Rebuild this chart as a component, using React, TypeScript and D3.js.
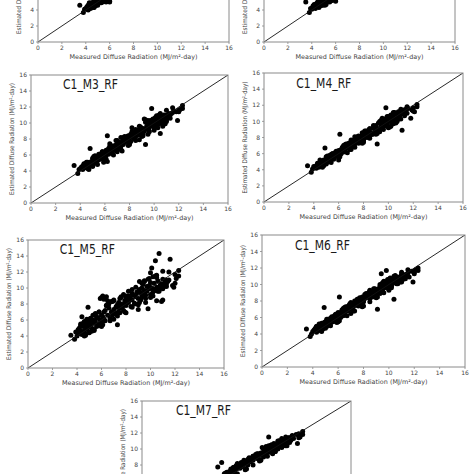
import React from "react";
import * as d3 from "d3";

// Measured diffuse radiation (shared by all models), MJ/m2-day
const measured = [
  3.5, 3.8, 3.9, 4.0, 4.1, 4.2, 4.2, 4.3, 4.3, 4.4,
  4.4, 4.5, 4.5, 4.6, 4.6, 4.7, 4.7, 4.8, 4.8, 4.9,
  4.9, 5.0, 5.0, 5.1, 5.1, 5.2, 5.2, 5.3, 5.4, 5.4,
  5.5, 5.5, 5.6, 5.7, 5.7, 5.8, 5.9, 6.0, 6.0, 6.1,
  6.1, 6.2, 6.2, 6.3, 6.3, 6.4, 6.5, 6.5, 6.6, 6.7,
  6.8, 6.8, 6.9, 7.0, 7.0, 7.1, 7.2, 7.3, 7.3, 7.4,
  7.5, 7.5, 7.6, 7.7, 7.8, 7.8, 7.9, 8.0, 8.1, 8.1,
  8.2, 8.3, 8.4, 8.5, 8.5, 8.6, 8.7, 8.8, 8.9, 9.0,
  9.0, 9.1, 9.2, 9.2, 9.3, 9.4, 9.5, 9.5, 9.6, 9.7,
  9.8, 9.8, 9.9, 10.0, 10.0, 10.1, 10.1, 10.2, 10.3, 10.3,
  10.4, 10.5, 10.5, 10.6, 10.7, 10.8, 10.9, 11.0, 11.1, 11.2,
  11.3, 11.5, 11.6, 11.8, 11.9, 12.0, 12.1, 12.3, 12.3, 11.4,
  4.6, 4.8, 5.0, 5.2, 5.3, 5.6, 5.8, 5.9, 6.0, 6.2,
  6.4, 6.6, 6.9, 7.1, 7.4, 7.6, 7.9, 8.2, 8.4, 8.7,
  8.9, 9.1, 9.3, 9.4, 9.6, 9.7, 9.9, 10.0, 10.2, 10.4,
  10.5, 10.6, 10.8, 10.9, 11.0, 11.2, 10.7, 9.5, 8.0, 7.2,
  4.3, 4.7, 5.1, 5.4, 5.8, 6.1, 6.4, 6.7, 7.0, 7.3,
  7.6, 7.9, 8.2, 8.5, 8.8, 9.1, 9.3, 9.6, 9.9, 10.2,
  10.4, 10.7, 11.0, 11.3, 4.5, 5.0, 5.5, 6.0, 6.5, 7.0,
  7.5, 8.0, 8.5, 9.0, 9.5, 10.0, 10.5, 11.0, 11.5, 12.0,
];

const estimatedM1 = [
  4.6, 3.7, 4.1, 4.2, 4.4, 4.0, 4.6, 4.3, 4.8, 4.5,
  4.2, 4.7, 4.4, 4.9, 4.5, 5.1, 4.8, 4.6, 5.0, 5.3,
  4.7, 5.2, 4.9, 5.4, 5.0, 5.6, 5.1, 5.5, 5.3, 5.8,
  5.2, 5.9, 5.6, 5.0, 6.1, 5.7, 6.2, 5.1, 6.3, 6.0,
  6.4, 6.6, 6.1, 6.8, 6.3, 6.5, 6.9, 6.7, 7.0, 6.6,
  7.1, 6.8, 7.2, 7.4, 6.9, 7.3, 7.6, 7.2, 7.7, 7.5,
  7.6, 7.9, 7.4, 8.1, 7.8, 8.2, 7.7, 8.3, 8.0, 8.5,
  8.3, 8.6, 8.2, 8.9, 8.5, 8.8, 9.0, 8.6, 9.2, 8.9,
  9.1, 9.4, 9.0, 9.6, 9.2, 9.8, 9.3, 9.9, 9.5, 10.0,
  9.7, 10.2, 9.8, 10.4, 9.9, 10.3, 10.6, 10.0, 10.5, 10.2,
  10.4, 10.7, 10.3, 10.9, 10.6, 10.5, 11.0, 10.8, 11.2, 10.9,
  11.1, 11.3, 11.5, 11.2, 11.6, 11.4, 11.8, 12.0, 11.7, 11.3,
  4.3, 4.5, 4.8, 5.2, 4.9, 5.4, 5.1, 5.7, 5.0, 6.0,
  6.2, 6.7, 7.0, 7.3, 7.5, 7.8, 8.0, 8.4, 8.7, 8.8,
  9.0, 9.3, 9.5, 9.7, 9.6, 10.1, 10.0, 10.3, 10.4, 10.6,
  10.7, 10.8, 11.0, 11.1, 11.2, 11.4, 10.9, 9.6, 8.1, 7.4,
  4.9, 4.3, 5.5, 5.0, 6.3, 5.6, 6.9, 6.2, 7.6, 6.8,
  8.1, 7.4, 8.8, 8.0, 9.3, 8.6, 9.9, 9.1, 10.4, 9.7,
  10.9, 10.2, 11.4, 10.8, 4.9, 4.6, 5.1, 5.5, 7.0, 6.5,
  8.0, 7.5, 9.0, 8.5, 10.0, 9.5, 10.1, 10.5, 11.0, 11.5,
];

const estimatedM2 = [
  5.0, 3.7, 4.2, 4.1, 4.5, 4.3, 4.7, 4.4, 4.2, 4.6,
  4.8, 4.4, 5.0, 4.6, 4.3, 4.9, 4.5, 5.1, 4.7, 5.4,
  4.6, 5.2, 4.8, 5.5, 5.0, 4.7, 5.6, 5.3, 5.1, 5.8,
  5.4, 5.7, 6.0, 5.2, 5.9, 6.2, 5.6, 5.1, 6.4, 5.9,
  6.1, 6.7, 6.3, 6.0, 6.9, 6.4, 6.6, 7.1, 6.5, 6.8,
  6.9, 7.3, 7.0, 6.8, 7.5, 7.2, 7.4, 7.8, 7.1, 7.6,
  7.8, 7.5, 7.9, 8.2, 7.6, 8.0, 8.4, 7.9, 8.1, 8.6,
  8.4, 8.1, 8.7, 8.5, 9.0, 8.3, 8.8, 9.1, 8.7, 9.3,
  8.8, 9.2, 9.5, 9.0, 9.7, 9.3, 9.9, 9.4, 10.0, 9.6,
  10.1, 9.5, 9.9, 10.3, 9.8, 10.5, 10.0, 10.4, 10.1, 10.7,
  10.2, 10.6, 10.9, 10.4, 10.7, 11.0, 10.6, 11.1, 10.8, 11.3,
  11.0, 11.4, 11.2, 11.6, 11.1, 11.7, 11.5, 12.1, 11.9, 11.2,
  4.4, 4.6, 5.3, 4.9, 5.5, 5.2, 5.8, 5.5, 6.1, 5.7,
  6.6, 6.4, 7.1, 7.3, 7.2, 7.7, 8.1, 8.0, 8.6, 8.5,
  8.9, 9.3, 9.2, 9.8, 9.5, 9.9, 10.2, 10.1, 10.3, 10.5,
  10.6, 10.4, 10.9, 10.7, 11.1, 11.2, 10.5, 9.7, 8.2, 7.3,
  4.7, 5.1, 4.6, 5.9, 5.3, 6.6, 5.9, 7.2, 6.5, 7.8,
  7.1, 8.4, 7.7, 9.0, 8.3, 9.6, 8.8, 10.1, 9.4, 10.7,
  9.9, 11.2, 10.5, 11.7, 4.9, 5.5, 5.0, 6.5, 6.0, 7.5,
  7.0, 8.5, 8.0, 9.5, 9.0, 10.5, 10.0, 10.6, 11.0, 11.4,
];

const estimatedM3 = [
  4.7, 3.7, 4.2, 4.3, 4.5, 4.2, 4.6, 4.4, 4.8, 4.5,
  4.9, 4.4, 4.8, 4.6, 5.1, 4.5, 5.0, 4.7, 6.8, 5.2,
  4.8, 5.1, 5.6, 5.0, 5.4, 5.5, 5.9, 5.2, 5.6, 5.3,
  5.8, 5.4, 6.0, 5.5, 6.2, 5.9, 5.1, 6.3, 5.7, 6.6,
  6.0, 8.4, 6.4, 6.1, 6.8, 6.5, 6.3, 7.0, 6.7, 6.6,
  7.2, 6.6, 7.0, 7.4, 6.8, 7.3, 7.6, 8.2, 7.1, 7.4,
  7.8, 7.3, 7.6, 8.0, 7.7, 8.3, 7.9, 8.1, 8.6, 7.7,
  9.4, 8.2, 8.6, 8.9, 8.3, 8.7, 9.1, 7.9, 8.8, 9.2,
  8.8, 9.3, 10.5, 9.0, 7.3, 9.6, 9.2, 9.8, 9.5, 10.0,
  11.8, 9.6, 9.9, 10.4, 9.5, 10.7, 9.8, 10.1, 10.6, 9.4,
  10.2, 10.9, 8.7, 10.5, 10.8, 10.1, 10.6, 11.0, 10.7, 11.2,
  11.0, 11.3, 11.5, 11.4, 10.3, 11.6, 11.7, 12.2, 11.8, 11.2,
  4.3, 5.0, 4.6, 5.7, 5.0, 5.6, 6.4, 5.8, 6.0, 5.2,
  7.4, 6.2, 7.8, 7.0, 6.5, 8.0, 8.4, 8.5, 8.0, 8.5,
  9.5, 8.7, 10.4, 9.3, 9.0, 10.3, 10.2, 9.8, 10.9, 9.9,
  10.4, 10.2, 11.0, 9.9, 10.4, 10.8, 9.6, 8.6, 7.5, 7.0,
  4.9, 4.2, 5.8, 4.8, 6.4, 5.5, 7.1, 6.0, 7.8, 6.7,
  8.3, 7.2, 8.9, 7.8, 9.6, 8.4, 10.1, 8.9, 10.5, 9.5,
  11.0, 10.0, 11.6, 10.6, 5.1, 4.6, 6.1, 5.4, 7.2, 6.4,
  8.2, 7.3, 9.2, 8.3, 10.3, 9.1, 11.2, 10.2, 11.9, 11.4,
];

const estimatedM4 = [
  4.5, 3.7, 4.1, 4.4, 4.3, 4.5, 4.2, 4.6, 4.4, 4.7,
  4.3, 4.6, 4.9, 4.5, 4.8, 5.0, 4.6, 5.2, 4.9, 6.7,
  5.0, 4.8, 5.3, 5.5, 5.1, 5.6, 5.3, 5.8, 5.4, 5.9,
  5.6, 6.0, 5.4, 5.9, 6.1, 5.7, 6.2, 5.2, 6.4, 5.9,
  8.4, 6.3, 6.0, 6.6, 6.8, 6.2, 7.0, 6.5, 6.9, 6.7,
  7.3, 6.8, 6.5, 7.1, 7.5, 7.0, 7.7, 7.2, 8.1, 7.6,
  7.4, 8.0, 7.8, 7.5, 8.2, 7.9, 8.6, 7.7, 8.3, 8.8,
  8.0, 8.5, 8.9, 8.2, 9.1, 8.6, 8.4, 9.2, 8.8, 9.0,
  9.5, 7.2, 9.1, 9.8, 8.7, 9.4, 10.4, 9.2, 9.7, 9.5,
  10.2, 11.7, 9.6, 10.0, 10.6, 9.3, 10.3, 10.8, 9.9, 10.5,
  10.7, 10.1, 11.0, 9.8, 10.4, 11.2, 10.6, 10.9, 8.9, 11.0,
  11.3, 11.0, 11.6, 10.4, 11.4, 11.7, 11.2, 12.1, 11.8, 11.5,
  4.4, 4.5, 5.6, 5.0, 5.4, 5.3, 5.7, 6.2, 6.0, 6.5,
  6.4, 7.2, 6.7, 7.4, 7.8, 7.3, 8.0, 8.7, 8.0, 8.4,
  9.3, 8.9, 9.0, 10.1, 9.9, 10.3, 9.4, 10.0, 10.1, 9.7,
  10.2, 10.9, 10.5, 10.8, 11.1, 11.4, 10.0, 9.8, 7.7, 6.9,
  4.8, 4.3, 5.7, 4.9, 6.3, 5.6, 7.0, 6.1, 7.7, 6.8,
  8.2, 7.3, 8.8, 7.9, 9.5, 8.5, 10.0, 9.0, 10.6, 9.4,
  11.1, 10.1, 11.5, 10.7, 5.2, 4.7, 6.0, 5.5, 7.1, 6.5,
  8.1, 7.4, 9.1, 8.4, 10.2, 9.2, 11.1, 10.3, 11.8, 11.3,
];

const estimatedM5 = [
  4.1, 3.6, 4.5, 4.0, 4.8, 4.3, 5.0, 4.6, 5.5, 4.2,
  6.4, 4.4, 5.2, 4.7, 5.8, 4.3, 5.4, 4.9, 6.1, 7.6,
  5.1, 4.5, 5.7, 5.3, 6.2, 5.0, 5.8, 6.6, 4.8, 5.6,
  5.9, 6.8, 5.2, 6.3, 5.5, 7.0, 6.0, 5.7, 8.8, 6.4,
  9.0, 6.1, 8.6, 7.2, 5.9, 8.9, 6.6, 8.4, 7.5, 6.2,
  8.3, 7.0, 6.6, 8.5, 7.3, 6.8, 7.7, 5.4, 7.9, 8.2,
  7.5, 6.9, 8.0, 7.6, 9.2, 7.2, 8.4, 7.8, 8.6, 9.0,
  8.2, 8.8, 7.7, 9.3, 8.5, 9.1, 8.0, 8.9, 9.5, 7.3,
  8.7, 10.8, 9.4, 8.5, 10.0, 9.0, 9.7, 10.9, 8.2, 9.6,
  11.1, 7.4, 10.3, 9.2, 11.9, 10.0, 12.5, 9.5, 10.6, 9.8,
  13.4, 10.1, 8.4, 10.9, 14.3, 10.4, 8.3, 11.1, 10.2, 10.7,
  10.5, 11.0, 13.6, 10.3, 10.1, 11.7, 11.2, 12.2, 11.5, 10.8,
  4.0, 5.6, 5.3, 4.6, 6.0, 6.3, 5.3, 8.7, 6.6, 7.0,
  7.8, 8.0, 8.3, 6.9, 7.0, 8.8, 8.1, 9.0, 8.6, 8.1,
  9.4, 9.8, 8.9, 10.5, 9.1, 10.2, 9.9, 10.7, 11.4, 9.7,
  11.3, 9.6, 10.2, 10.5, 8.5, 11.0, 10.0, 9.2, 8.8, 7.6,
  5.3, 4.1, 6.2, 4.7, 7.0, 5.4, 7.8, 5.9, 8.4, 6.5,
  8.9, 7.0, 9.6, 7.6, 10.1, 8.2, 10.6, 8.7, 11.2, 9.0,
  11.5, 9.6, 12.1, 10.2, 5.6, 4.4, 6.7, 5.2, 7.9, 6.1,
  8.7, 6.9, 9.8, 7.9, 10.8, 8.8, 11.6, 9.9, 12.0, 10.6,
];

const estimatedM6 = [
  4.6, 3.7, 4.0, 4.3, 4.5, 4.4, 4.7, 4.2, 4.9, 4.6,
  4.4, 4.8, 5.2, 4.5, 5.0, 4.7, 5.3, 4.9, 5.1, 7.2,
  5.4, 5.0, 5.5, 5.2, 4.9, 5.7, 5.4, 5.6, 5.9, 5.3,
  5.7, 6.0, 5.5, 6.2, 5.8, 6.1, 5.4, 6.3, 6.6, 8.5,
  6.2, 6.6, 6.0, 6.9, 6.4, 6.7, 7.2, 6.5, 7.0, 6.8,
  7.4, 6.9, 7.6, 7.1, 7.8, 7.3, 6.8, 7.6, 8.0, 7.5,
  8.2, 7.6, 7.9, 8.4, 7.7, 8.1, 8.5, 8.0, 8.3, 8.8,
  8.4, 8.7, 9.0, 8.3, 9.3, 8.6, 9.1, 8.8, 9.5, 8.9,
  9.2, 7.0, 9.5, 9.0, 9.8, 11.3, 9.4, 10.1, 9.7, 10.3,
  11.7, 9.6, 10.0, 10.5, 9.7, 10.3, 10.8, 9.9, 10.2, 10.6,
  8.2, 10.7, 10.4, 10.1, 10.9, 10.5, 10.8, 11.1, 10.6, 11.0,
  11.2, 11.4, 10.9, 11.6, 10.3, 11.5, 11.8, 12.0, 11.7, 11.1,
  4.5, 4.6, 5.2, 5.8, 5.4, 5.9, 6.3, 6.0, 5.6, 6.4,
  6.2, 7.3, 7.0, 7.6, 7.9, 7.4, 7.8, 8.6, 8.9, 8.5,
  9.4, 9.2, 8.9, 9.6, 10.4, 9.9, 10.1, 9.5, 9.8, 10.7,
  10.2, 10.5, 10.6, 10.3, 11.2, 11.0, 10.4, 9.3, 7.9, 7.3,
  4.9, 4.3, 5.8, 5.0, 6.4, 5.6, 7.1, 6.2, 7.8, 6.8,
  8.2, 7.3, 8.9, 7.9, 9.5, 8.5, 10.0, 9.0, 10.6, 9.6,
  11.0, 10.1, 11.5, 10.7, 5.1, 4.7, 6.1, 5.5, 7.1, 6.5,
  8.1, 7.4, 9.2, 8.4, 10.2, 9.3, 11.1, 10.3, 11.8, 11.3,
];

const estimatedM7 = [
  4.5, 3.8, 4.2, 4.4, 4.1, 4.6, 4.3, 4.5, 4.8, 4.6,
  4.7, 4.5, 4.9, 4.8, 5.0, 4.6, 5.1, 5.3, 4.9, 5.6,
  5.2, 5.0, 5.4, 5.6, 5.1, 5.3, 5.8, 5.5, 5.7, 5.2,
  5.9, 5.6, 6.1, 5.8, 6.0, 7.75, 6.2, 5.9, 6.4, 6.3,
  8.3, 6.4, 6.6, 6.2, 6.9, 6.7, 7.0, 6.5, 7.1, 7.2,
  7.0, 7.5, 7.3, 7.7, 7.1, 7.4, 7.9, 7.6, 8.2, 7.8,
  7.6, 8.0, 8.3, 7.8, 8.1, 8.6, 8.2, 8.5, 8.0, 8.7,
  8.9, 8.4, 8.7, 9.1, 8.6, 9.0, 9.3, 8.8, 9.4, 9.2,
  8.6, 9.5, 9.3, 10.2, 9.0, 9.7, 10.3, 9.4, 9.9, 11.5,
  10.0, 9.6, 10.5, 9.8, 10.4, 10.1, 10.7, 9.7, 10.6, 10.2,
  10.8, 10.3, 11.0, 10.5, 11.3, 10.6, 10.9, 11.1, 10.4, 11.2,
  11.4, 11.6, 11.3, 11.8, 10.7, 11.9, 11.5, 12.2, 11.8, 11.1,
  4.4, 5.0, 5.1, 5.5, 5.6, 5.8, 6.1, 6.2, 6.3, 6.0,
  6.8, 6.9, 7.2, 7.4, 7.7, 7.9, 8.1, 8.4, 8.8, 9.0,
  9.1, 9.4, 9.6, 9.3, 10.0, 10.4, 9.8, 10.2, 10.5, 10.0,
  10.7, 10.9, 10.4, 11.0, 10.8, 11.4, 10.3, 9.8, 8.4, 7.5,
  4.8, 4.4, 5.7, 5.0, 6.4, 5.7, 7.0, 6.2, 7.7, 6.9,
  8.2, 7.4, 8.8, 8.0, 9.4, 8.6, 10.0, 9.1, 10.5, 9.7,
  11.0, 10.2, 11.5, 10.8, 5.1, 4.8, 6.0, 5.6, 7.1, 6.6,
  8.1, 7.5, 9.1, 8.5, 10.1, 9.4, 11.0, 10.4, 11.7, 11.4,
];

const modelTitles = ["C1_M1_RF", "C1_M2_RF", "C1_M3_RF", "C1_M4_RF", "C1_M5_RF", "C1_M6_RF", "C1_M7_RF"];
const modelEstimates = [estimatedM1, estimatedM2, estimatedM3, estimatedM4, estimatedM5, estimatedM6, estimatedM7];
const tickValues = [0, 2, 4, 6, 8, 10, 12, 14, 16];
const axisDomain = [0, 16];
const xLabelText = "Measured Diffuse Radiation (MJ/m\u00B2-day)";
const yLabelText = "Estimated Diffuse Radiation (MJ/m\u00B2-day)";

// panel placement (pixels) for the 7 subplots
const panelBoxes = [
  { left: 38, top: -86, width: 191, height: 128 },
  { left: 264, top: -86, width: 191, height: 128 },
  { left: 31, top: 75, width: 197, height: 128 },
  { left: 264, top: 73, width: 199, height: 129 },
  { left: 28, top: 240, width: 196, height: 128 },
  { left: 262, top: 235, width: 203, height: 132 },
  { left: 142, top: 401, width: 209, height: 128 },
];

const FONT = "DejaVu Sans, Arial, sans-serif";

function Panel({ idx }: { idx: number }) {
  const box = panelBoxes[idx];
  const est = modelEstimates[idx];
  const x = d3.scaleLinear().domain(axisDomain).range([0, box.width]);
  const y = d3.scaleLinear().domain(axisDomain).range([box.height, 0]);
  const clipId = `clip-${idx}`;
  const line = d3.line<number>().x((d) => x(d)).y((d) => y(d));
  return (
    <g transform={`translate(${box.left},${box.top})`}>
      <defs>
        <clipPath id={clipId}>
          <rect x={0} y={0} width={box.width} height={box.height} />
        </clipPath>
      </defs>
      <rect x={0} y={0} width={box.width} height={box.height} fill="#fff" />
      <g clipPath={`url(#${clipId})`}>
        {measured.map((m, i) => (
          <circle key={i} cx={x(m)} cy={y(est[i])} r={2.5} fill="#000" />
        ))}
        <path d={line(axisDomain) || ""} stroke="#111" strokeWidth={0.9} fill="none" />
      </g>
      <rect x={0} y={0} width={box.width} height={box.height} fill="none" stroke="#8a8a8a" strokeWidth={1} />
      {tickValues.map((t) => (
        <g key={"x" + t}>
          <line x1={x(t)} x2={x(t)} y1={box.height} y2={box.height + 2} stroke="#8a8a8a" strokeWidth={0.8} />
          <text x={x(t)} y={box.height + 7.5} fontSize={6} fontFamily={FONT} fill="#444" textAnchor="middle">
            {t}
          </text>
        </g>
      ))}
      {tickValues.map((t) => (
        <g key={"y" + t}>
          <line x1={-2} x2={0} y1={y(t)} y2={y(t)} stroke="#8a8a8a" strokeWidth={0.8} />
          <text x={-4} y={y(t) + 2.2} fontSize={6} fontFamily={FONT} fill="#444" textAnchor="end">
            {t}
          </text>
        </g>
      ))}
      <text
        x={box.width / 2}
        y={box.height + 16.5}
        fontSize={6.4}
        fontFamily={FONT}
        fill="#444"
        textAnchor="middle"
        textLength={128}
        lengthAdjust="spacingAndGlyphs"
      >
        {xLabelText}
      </text>
      <text
        transform={`translate(${-17},${box.height / 2}) rotate(-90)`}
        fontSize={6.4}
        fontFamily={FONT}
        fill="#444"
        textAnchor="middle"
        textLength={112}
        lengthAdjust="spacingAndGlyphs"
      >
        {yLabelText}
      </text>
      <text
        x={x(2.6)}
        y={y(14.2)}
        fontSize={13.5}
        fontFamily={FONT}
        fill="#1a1a1a"
        textLength={55}
        lengthAdjust="spacingAndGlyphs"
      >
        {modelTitles[idx]}
      </text>
    </g>
  );
}

export default function App() {
  return (
    <svg
      width={474}
      height={474}
      viewBox="0 0 474 474"
      style={{ position: "absolute", left: 0, top: 0, background: "#fff" }}
    >
      <rect x={0} y={0} width={474} height={474} fill="#fff" />
      {panelBoxes.map((_, i) => (
        <Panel key={i} idx={i} />
      ))}
    </svg>
  );
}
